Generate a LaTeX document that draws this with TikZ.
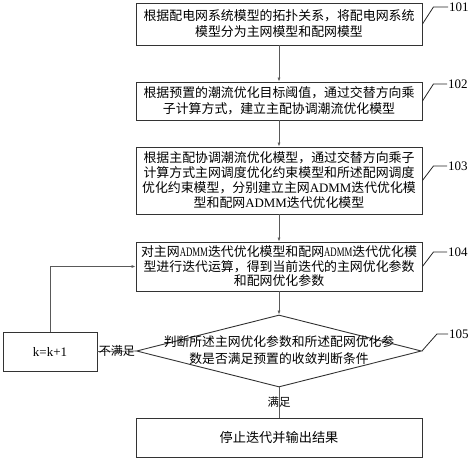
\documentclass[tikz,border=0pt]{standalone}
\usepackage{fontspec}
\setmainfont{Liberation Serif}
\newfontfamily\cjk{Noto Sans CJK SC}
\usetikzlibrary{shapes.geometric,arrows.meta}
\newcommand{\lat}[1]{{\rmfamily #1}}
\newcommand{\latn}[1]{\scalebox{0.68}[1]{\rmfamily #1}}

\begin{document}
\begin{tikzpicture}[x=1pt,y=-1pt,
		box/.style={draw=black!80,line width=0.9pt,minimum width=286pt,inner sep=0pt,align=center,font=\cjk\fontsize{12.9}{16}\selectfont},
		line/.style={draw=black!65,line width=0.7pt},
		arr/.style={line,-{Latex[length=4pt,width=3pt]}},
		lead/.style={draw=black!85,line width=0.8pt},
		num/.style={font=\fontsize{13}{13}\selectfont,anchor=west,inner sep=1pt}]
		
		\useasboundingbox (0,0) rectangle (474,462);
		
		% Kaesten
		\node[box,minimum height=42pt] (s101) at (279,24) {根据配电网系统模型的拓扑关系，将配电网系统\\模型分为主网模型和配网模型};
		\node[box,minimum height=38pt] (s102) at (279,101) {根据预置的潮流优化目标阈值，通过交替方向乘\\子计算方式，建立主配协调潮流优化模型};
		\node[box,minimum height=67pt,font=\cjk\fontsize{12.9}{15}\selectfont] (s103) at (279,180.5) {根据主配协调潮流优化模型，通过交替方向乘子\\计算方式主网调度优化约束模型和所述配网调度\\优化约束模型，分别建立主网\lat{ADMM}迭代优化模\\型和配网\lat{ADMM}迭代优化模型};
		\node[box,minimum height=49pt,font=\cjk\fontsize{12.9}{14.5}\selectfont] (s104) at (279,266.5) {对主网\latn{ADMM}迭代优化模型和配网\latn{ADMM}迭代优化模\\型进行迭代运算，得到当前迭代的主网优化参数\\和配网优化参数};
		
		% Raute
		\node[draw=black!80,line width=0.9pt,diamond,minimum width=285pt,minimum height=72pt,inner sep=0pt] (s105) at (279,351) {};
		\node[align=center,inner sep=0pt,font=\cjk\fontsize{12.8}{17}\selectfont] (t105) at (279,350) {判断所述主网优化参数和所述配网优化参\\数是否满足预置的收敛判断条件};
		
		\node[box,minimum width=94pt,minimum height=39pt,font=\fontsize{13}{13}\selectfont] (k) at (50,351.5) {k=k+1};
		\node[box,minimum height=39pt,font=\cjk\fontsize{13.2}{16}\selectfont] (s106) at (279,437.5) {停止迭代并输出结果};
		
		% Pfeile
		\draw[arr] (s101) -- (s102);
		\draw[arr] (s102) -- (s103);
		\draw[arr] (s103) -- (s104);
		\draw[arr] (s104) -- (s105.north);
		\draw[line] (s105.west) -- node[inner sep=0pt,font=\cjk\fontsize{12}{12}\selectfont] (nein) {不满足} (k.east);
		\draw[arr] (k.north) |- (s104.west);
		\draw[line] (s105.south) -- node[inner sep=0pt,font=\cjk\fontsize{11.5}{12}\selectfont] (ja) {满足} (s106.north);
		
		% Bezugszeichen
		\node[num] (n101) at (448,7) {101};
		\node[num] (n102) at (447,84) {102};
		\node[num] (n103) at (447,166) {103};
		\node[num] (n104) at (447,252) {104};
		\node[num] (n105) at (448,334) {105};
		\draw[lead] (s101.east) -- ++(11,-17) -- (n101.west);
		\draw[lead] (s102.east) -- ++(11,-17) -- (n102.west);
		\draw[lead] (s103.east) -- ++(11,-14.5) -- (n103.west);
		\draw[lead] (s104.east) -- ++(11,-14.5) -- (n104.west);
		\draw[lead] (s105.east) -- ++(15,-17) -- (n105.west);
		
	\end{tikzpicture}
\end{document}
